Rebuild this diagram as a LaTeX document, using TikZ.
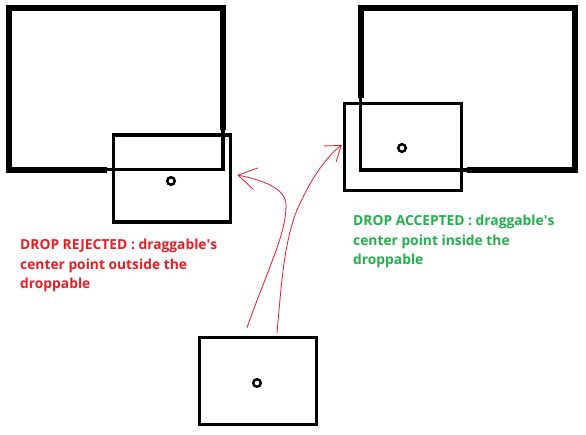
\documentclass[tikz,border=0pt]{standalone}
\usepackage{fontspec}
\setmainfont{Open Sans}
\usepackage{xcolor}
\usetikzlibrary{arrows.meta,positioning}

\definecolor{paintred}{RGB}{237,28,36}
\definecolor{paintgreen}{RGB}{34,177,76}

\begin{document}
\begin{tikzpicture}[x=1pt,y=-1pt,line join=miter]
\tikzstyle{drag}=[draw=black,line width=3.5pt,minimum width=117pt,minimum height=87pt,inner sep=0pt]
\tikzstyle{dot}=[circle,draw=black,line width=2.5pt,minimum size=7.5pt,inner sep=0pt]
\tikzstyle{dropthick}=[draw=black,line width=6pt]
\tikzstyle{dropthin}=[draw=black,line width=3.5pt]
\tikzstyle{hand}=[draw=paintred,line width=0.8pt]
\tikzstyle{caption}=[anchor=north west,align=left,inner sep=0pt,font=\bfseries\fontsize{13.8}{19.5}\selectfont]
\useasboundingbox[fill=white] (0,0) rectangle (586,434);

% droppables
\draw[dropthick] (107,169.5) -| (9,7.5) -| (223,130);
\draw[dropthin] (107,169.5) -| (223,130);
\draw[dropthick] (360.5,98) |- (575,7.5) |- (467,170);
\draw[dropthin] (360.5,98) |- (467,170);

% draggables
\node[drag] (dragL) at (172,178.5) {};
\node[drag] (dragR) at (403,147) {};
\node[drag] (dragB) at (258,381) {};
\node[dot] (dotL) at (171,181) {};
\node[dot] (dotR) at (402,148) {};
\node[dot] (dotB) at (257,383) {};

% hand drawn arrows
\draw[hand,-{Straight Barb[length=18pt,width=22pt]}] ([xshift=-11pt,yshift=8pt]dragB.north)
  .. controls (268,268) and (286,235) .. (286,205)
  .. controls (286,188) and (262,180) .. ([xshift=5pt,yshift=3.5pt]dragL.east);
\draw[hand,-{Straight Barb[length=14pt,width=20pt]}] ([xshift=19pt,yshift=3pt]dragB.north)
  .. controls (281,290) and (283,250) .. (295,215)
  .. controls (305,190) and (322,160) .. ([xshift=-1pt,yshift=2pt]dragR.west);

% captions
\node[caption,text=paintred] (rejected) at (20,239) {DROP REJECTED : draggable\textquotesingle s\\center point outside the\\droppable};
\node[caption,text=paintgreen] (accepted) at (353,215) {DROP ACCEPTED : draggable\textquotesingle s\\center point inside the\\droppable};
\end{tikzpicture}
\end{document}
